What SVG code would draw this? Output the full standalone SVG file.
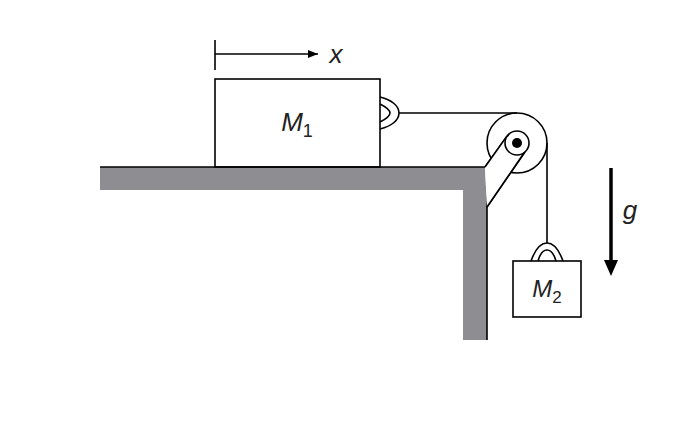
<svg xmlns="http://www.w3.org/2000/svg" width="700" height="432" viewBox="0 0 700 432">
<style>
.l{fill:none;stroke:#000;stroke-width:1.6}
.t{font-family:"Liberation Sans",Arial,sans-serif;font-style:italic;fill:#222}
</style>
<defs><marker id="a" markerWidth="10" markerHeight="8" refX="10" refY="4" orient="auto" markerUnits="userSpaceOnUse"><path d="M0,0L10,4L0,8z"/></marker></defs>
<rect width="700" height="432" fill="#fff"/>
<g id="table">
<path d="M100,167H487V340H463V190H100Z" fill="#8e8e92"/>
<path class="l" d="M100,167H487V340"/>
</g>
<g id="m1"><rect class="l" x="215" y="79" width="165" height="88" fill="#fff"/>
<text class="t" x="297" y="131" font-size="26" text-anchor="middle">M<tspan font-style="normal" font-size="18" dy="6">1</tspan></text>
<path class="l" d="M380,97C392,100 399,106 399,113C399,120 392,126 380,129M380,104C386,107 390,110 390,113C390,116 386,119 380,122"/></g>
<g id="pulley">
<path d="M485,167L509,134L525,152L487,207Z" fill="#fff"/>
<path class="l" d="M485,167L509,134M487,207L525,152"/>
<circle class="l" cx="517" cy="143" r="30" fill="#fff"/>
<path d="M485,167L507,136L523,154L487,207" fill="#fff"/>
<path class="l" d="M485,167L507,136M487,207L524,153"/>
<circle class="l" cx="517" cy="143" r="12" fill="#fff"/>
<circle cx="517" cy="143" r="5"/>
</g>
<g id="m2"><rect class="l" x="513" y="261" width="68" height="56" fill="#fff"/>
<text class="t" x="547" y="297" font-size="24" text-anchor="middle">M<tspan font-style="normal" font-size="17" dy="6">2</tspan></text>
<path class="l" d="M531,261C535,250 541,243 547,243C553,243 559,250 563,261M538,261C540,254 543,250 547,250C551,250 554,254 556,261"/></g>
<g id="connectors">
<path class="l" d="M399,113H517M547,143V243"/>
<path class="l" d="M215,40V70"/>
<path class="l" d="M215,54H318" marker-end="url(#a)"/>
<path d="M611,168V262" stroke="#000" stroke-width="3.5" fill="none"/>
<path d="M604,260L611,276L618,260Z"/>
</g>
<text class="t" x="336" y="63" font-size="26" text-anchor="middle">x</text>
<text class="t" x="630" y="219" font-size="26" text-anchor="middle">g</text>
</svg>
